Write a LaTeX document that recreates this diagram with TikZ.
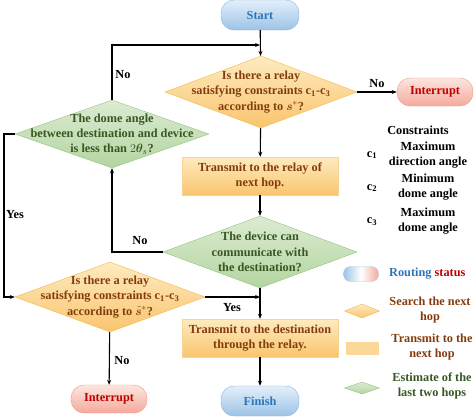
\documentclass[tikz,border=0pt]{standalone}
\usepackage{fontspec}
\setmainfont{Liberation Serif}
\usepackage{bm}
\usetikzlibrary{shapes.geometric,arrows.meta}
\definecolor{txtbrown}{HTML}{843C0C}
\definecolor{txtgreen}{HTML}{385723}
\definecolor{txtblue}{HTML}{2E75B6}
\definecolor{txtred}{HTML}{C00000}
\definecolor{orT}{HTML}{FEEBC0}
\definecolor{orB}{HTML}{F9C56E}
\definecolor{orD}{HTML}{F2B84B}
\definecolor{grT}{HTML}{DCEBD3}
\definecolor{grB}{HTML}{B3D59F}
\definecolor{grD}{HTML}{94C47D}
\definecolor{blT}{HTML}{E3EFFA}
\definecolor{blB}{HTML}{9DC3E6}
\definecolor{blD}{HTML}{8DB3DD}
\definecolor{rdT}{HTML}{FCE6DE}
\definecolor{rdB}{HTML}{F5A99C}
\definecolor{rdD}{HTML}{EE9A8A}
\tikzset{
  term/.style={rectangle, rounded corners=13pt, inner sep=0pt},
  blueterm/.style={term, draw=blD, top color=blT, bottom color=blB, text=txtblue, minimum width=78, minimum height=30},
  redterm/.style={term, draw=rdD, top color=rdT, bottom color=rdB, text=txtred, minimum width=76, minimum height=28},
  odia/.style={diamond, draw=orD, top color=orT, bottom color=orB, inner sep=0pt},
  gdia/.style={diamond, draw=grD, top color=grT, bottom color=grB, inner sep=0pt},
  obox/.style={rectangle, draw=orD!60, top color=orT, bottom color=orB, inner sep=0pt, minimum width=156, minimum height=38},
  dtxt/.style={align=center, inner sep=0pt},
  arr/.style={-{Stealth[length=5pt,width=4pt]}, line width=1.1pt, black},
  lbl/.style={inner sep=1pt, text=black},
}
\begin{document}
\begin{tikzpicture}[x=1pt,y=-1pt, font=\bfseries\fontsize{12.3}{15.2}\selectfont]
\useasboundingbox (0,0) rectangle (474,416);
% main nodes
\node[blueterm] (start) at (260,15) {Start};
\node[odia, minimum width=192, minimum height=72] (q1) at (261,92) {};
\node[dtxt, text=txtbrown] (q1t) at (q1) {Is there a relay\\satisfying constraints c\textsubscript{1}-c\textsubscript{3}\\according to $\bm{s}^{*}$?};
\node[redterm] (int1) at (435,92) {Interrupt};
\node[gdia, minimum width=194, minimum height=68] (g1) at (112,134) {};
\node[dtxt, text=txtgreen] (g1t) at (g1) {The dome angle\\between destination and device\\is less than $2\bm{\theta}_{s}$?};
\node[obox] (t1) at (260,176) {};
\node[dtxt, text=txtbrown] (t1t) at (t1) {Transmit to the relay of\\next hop.};
\node[gdia, minimum width=194, minimum height=72] (g2) at (260,252) {};
\node[dtxt, text=txtgreen] (g2t) at (g2) {The device can\\communicate with\\the destination?};
\node[odia, minimum width=190, minimum height=70] (q2) at (110,297) {};
\node[dtxt, text=txtbrown] (q2t) at (q2) {Is there a relay\\satisfying constraints c\textsubscript{1}-c\textsubscript{3}\\according to \smash{$\bm{\tilde{s}}^{*}$}?};
\node[obox] (t2) at (260,338) {};
\node[dtxt, text=txtbrown] (t2t) at (t2) {Transmit to the destination\\through the relay.};
\node[blueterm] (fin) at (260,401) {Finish};
\node[redterm] (int2) at (109,399) {Interrupt};
% connectors
\coordinate (j1) at (260,45);
\coordinate (j2) at (260,297);
\coordinate (j3) at (4,134);
\draw[arr] (start) -- (q1);
\draw[arr] (q1.east) -- (int1.west);
\node[lbl] (no1) at (377,84) {No};
\draw[arr] (q1) -- (t1);
\draw[arr] (t1) -- (g2);
\draw[arr] (g1.north) |- (j1);
\node[lbl] (no2) at (123,75) {No};
\draw[arr] (g2.west) -| (g1.south);
\node[lbl] (no3) at (140,241) {No};
\draw[arr] (g1.west) -- (j3) |- (q2.west);
\node[lbl] (yes1) at (15,215) {Yes};
\draw[arr] (g2.south) -- (t2.north);
\draw[arr] (q2.east) -- (j2);
\node[lbl] (yes2) at (232,308) {Yes};
\draw[arr] (t2) -- (fin);
\draw[arr] (q2) -- (int2);
\node[lbl] (no4) at (122,361) {No};
% constraints
\node[lbl] (cons) at (418,130) {Constraints};
\node[lbl] (c1) at (372,155) {c\textsubscript{1}};
\node[dtxt] (c1t) at (428,155) {Maximum\\direction angle};
\node[lbl] (c2) at (372,188) {c\textsubscript{2}};
\node[dtxt] (c2t) at (428,187) {Minimum\\dome angle};
\node[lbl] (c3) at (372,222) {c\textsubscript{3}};
\node[dtxt] (c3t) at (428,221) {Maximum\\dome angle};
% legend
\node[term, rounded corners=7pt, draw=blD!70, left color=blB, right color=rdB, middle color=white, minimum width=35, minimum height=15] (lg1) at (361,274) {};
\node[lbl, anchor=west] (lg1t) at (388,274) {\textcolor{txtblue}{Routing} \textcolor{txtred}{status}};
\node[odia, minimum width=35, minimum height=14] (lg2) at (362,311) {};
\node[dtxt, text=txtbrown] (lg2t) at (430,310) {Search the next\\hop};
\node[rectangle, fill=orT!50!orB, minimum width=33, minimum height=13, inner sep=0pt] (lg3) at (362,348) {};
\node[dtxt, text=txtbrown] (lg3t) at (432,347) {Transmit to the\\next hop};
\node[gdia, minimum width=35, minimum height=12] (lg4) at (362,388) {};
\node[dtxt, text=txtgreen] (lg4t) at (432,386) {Estimate of the\\last two hops};
\end{tikzpicture}
\end{document}
